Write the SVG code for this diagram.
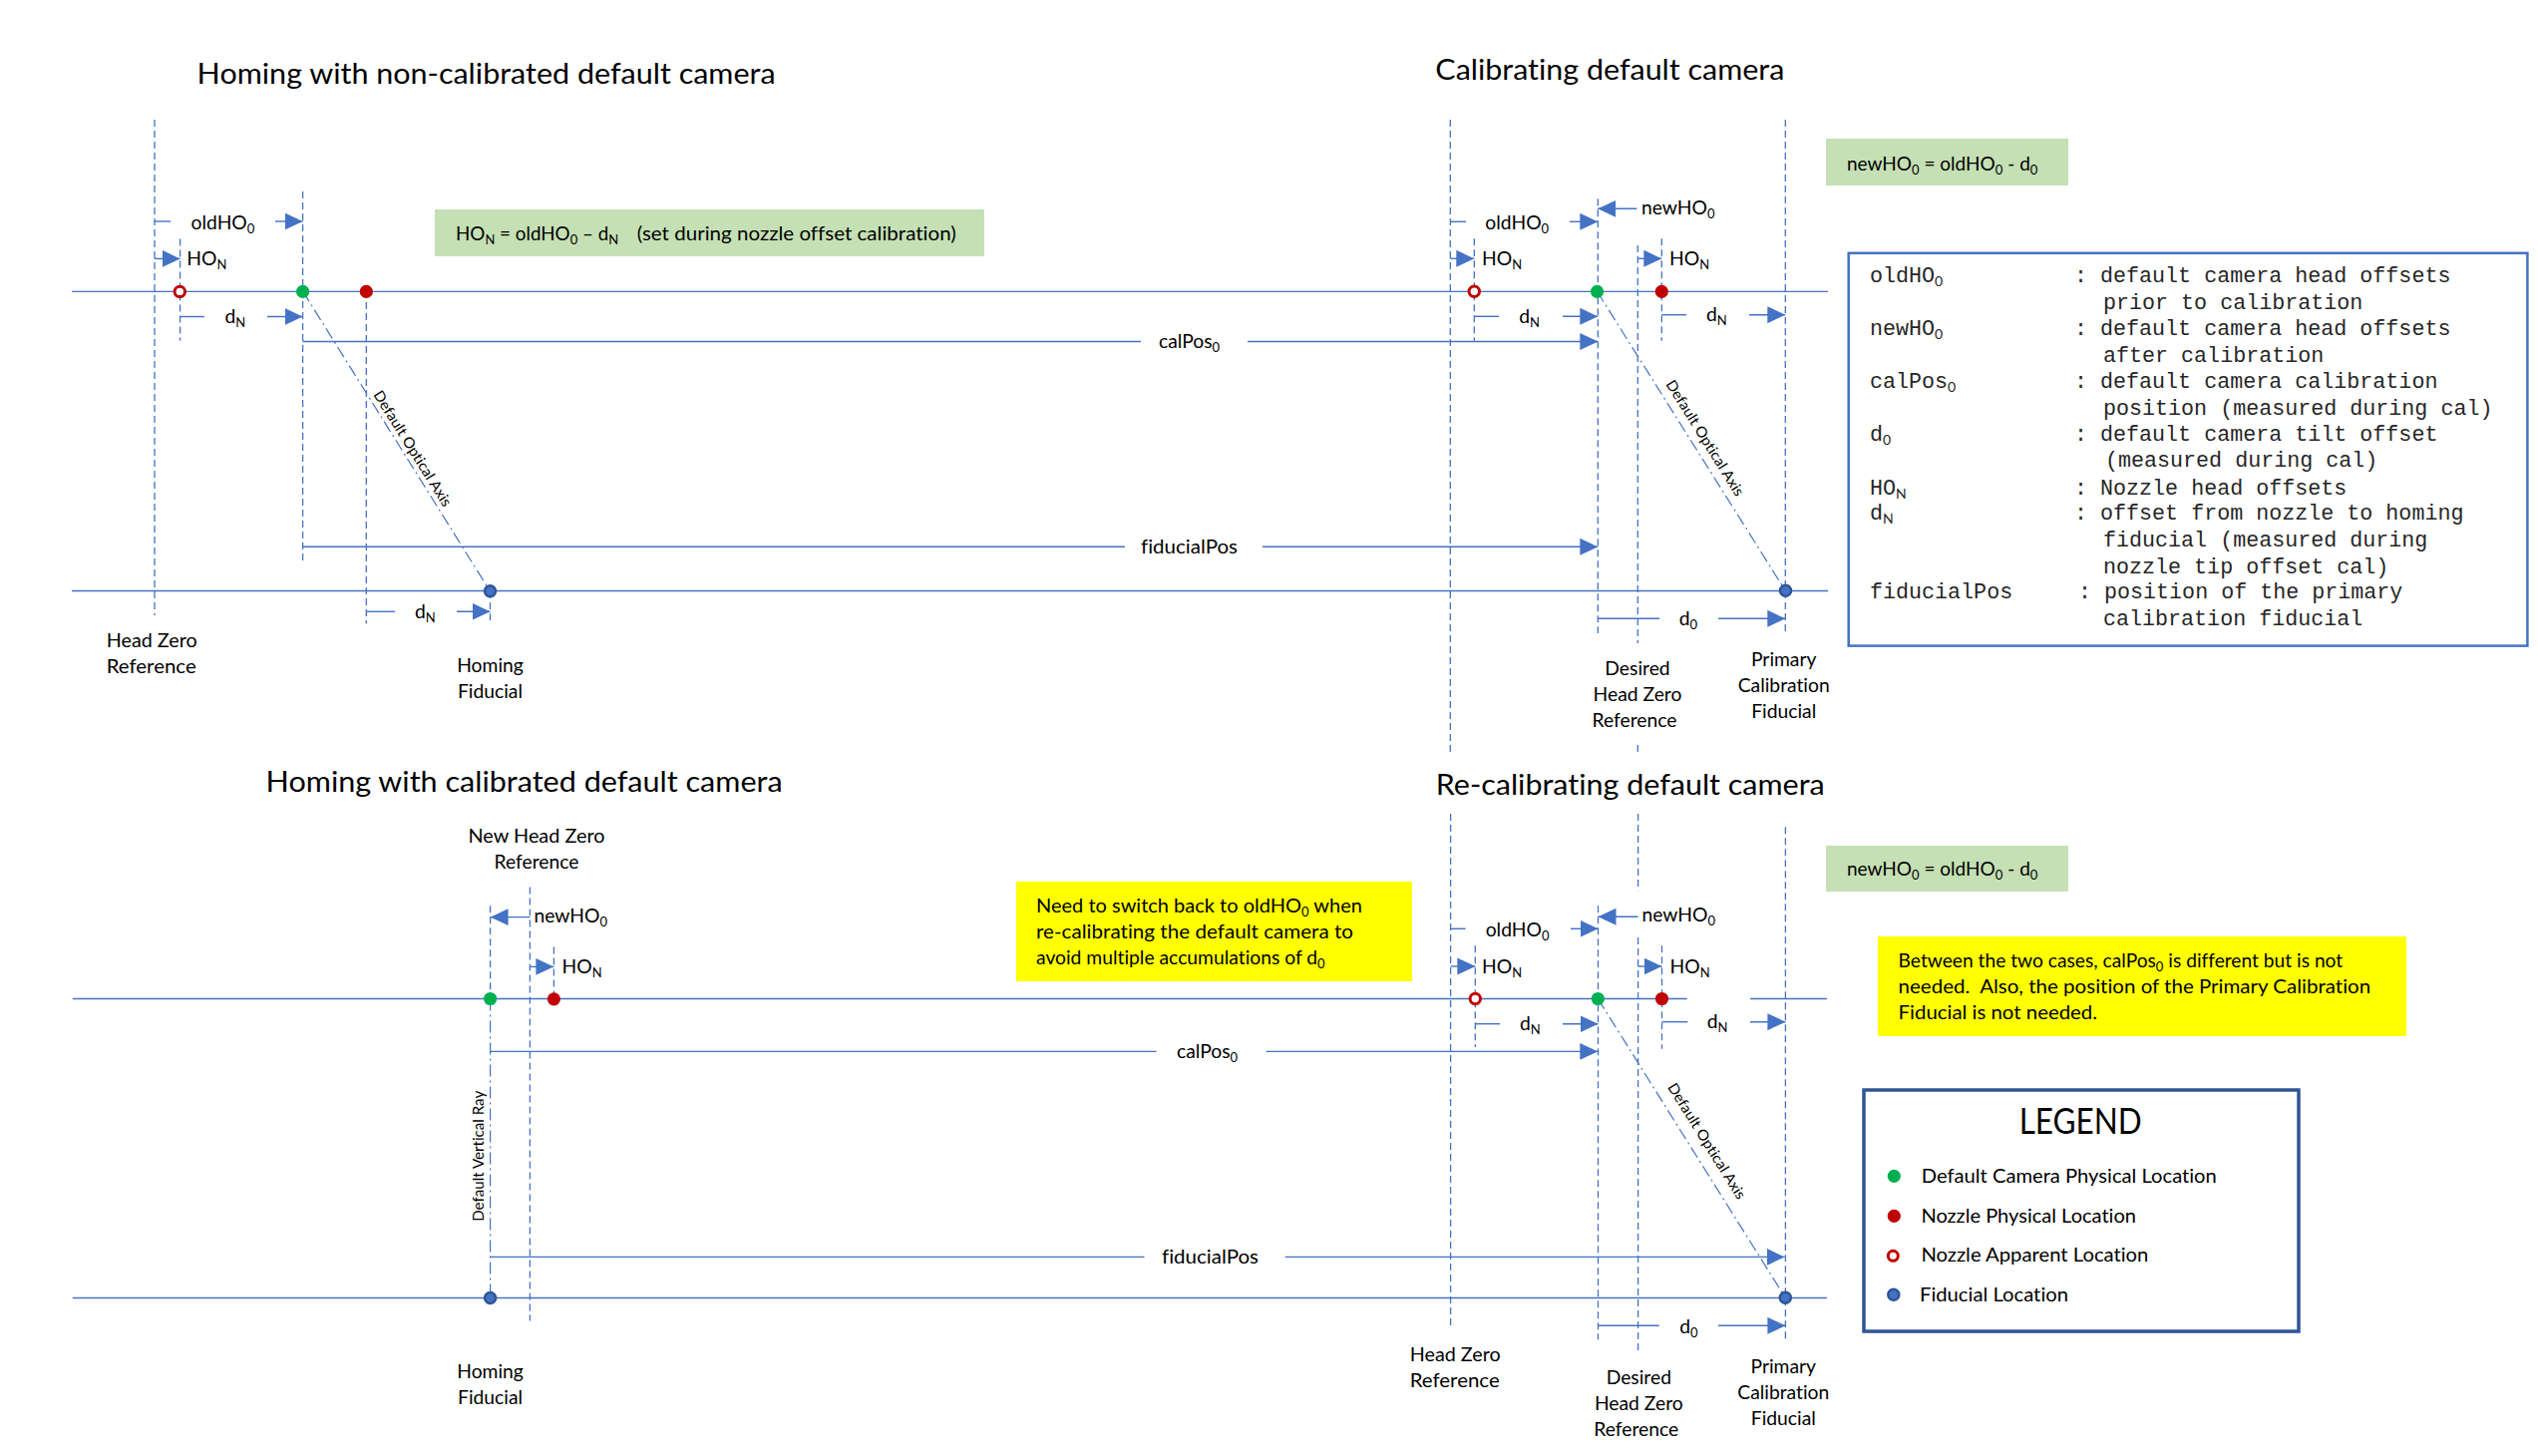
<svg xmlns="http://www.w3.org/2000/svg" width="2545" height="1460" viewBox="0 0 2545 1460">
<style>
text{font-family:"Lato","Carlito","Liberation Sans",sans-serif;font-size:19.3px;fill:#000;white-space:pre;font-variant-ligatures:none}
.title{font-size:29px}
.small{font-size:14.5px}
.mid{text-anchor:middle}
.big{font-size:36px}
.m{font-family:"Liberation Mono",monospace;font-size:21.7px;fill:#262626}
.sub{font-size:13px}
.msub{font-family:"Lato",sans-serif;font-size:14px}
.s{stroke:#4472C4;stroke-width:1.4;fill:none}
.a{stroke:#4472C4;stroke-width:1.4;fill:none;marker-end:url(#arr)}
.d{stroke:#4472C4;stroke-width:1.3;fill:none;stroke-dasharray:7 4}
.o{stroke:#4472C4;stroke-width:1.2;fill:none;stroke-dasharray:12 4 2 4}
.g{fill:#00B050}
.r{fill:#C00000}
.w{fill:#fff;stroke:#C00000;stroke-width:3}
.b{fill:#4472C4;stroke:#2F5597;stroke-width:2.5}
</style>
<defs>
<marker id="arr" markerUnits="userSpaceOnUse" markerWidth="18" markerHeight="18" viewBox="0 0 17 16" refX="17" refY="8" orient="auto"><path d="M0 0L17 8L0 16Z" fill="#4472C4"/></marker>
</defs>
<rect width="2545" height="1460" fill="#fff"/>

<g id="boxes">
<rect id="eq-hon" x="436" y="210" width="551" height="47" fill="#C5E0B4"/>
<rect id="eq-new-top" x="1831" y="139" width="243" height="47" fill="#C5E0B4"/>
<rect id="eq-new-bottom" x="1831" y="848" width="243" height="46" fill="#C5E0B4"/>
<rect id="note-switch" x="1019" y="884" width="397" height="100" fill="#FFFF00"/>
<rect id="note-cases" x="1883" y="939" width="530" height="100" fill="#FFFF00"/>
</g>

<g id="connectors">
<!-- top left -->
<path class="s" d="M72 292.4H1833M72 592.5H1833M303.6 342.5H1144M303.6 548.3H1128"/>
<path class="a" d="M1251 342.5H1602.3"/>
<path class="a" d="M1266 548.3H1602.3"/>
<path class="d" d="M155 120V617M180.6 239.5V341.5M303.6 192V562.5M367.3 292V625.5M491.5 593V622"/>
<path class="s" d="M155 222H171"/><path class="a" d="M276 222H303.6"/>
<path class="a" d="M155 259.4H180.6"/>
<path class="s" d="M180.6 317.5H205"/><path class="a" d="M268 317.5H303.6"/>
<path class="s" d="M367.3 613.3H396"/><path class="a" d="M458 613.3H491.5"/>
<path class="o" d="M303.6 292L491.5 593"/>
<!-- top right -->
<path class="d" d="M1454.3 120V755M1478.3 239.3V341.7M1602.3 199.3V635M1642.3 246V645M1642.3 747V755M1666.3 239.3V341.7M1790.3 120V636.7"/>
<path class="s" d="M1454.3 222.3H1470"/><path class="a" d="M1574 222.3H1602.3"/>
<path class="a" d="M1641.3 209.3H1602.3"/>
<path class="a" d="M1454.3 259.3H1478.3"/>
<path class="a" d="M1642.3 259.3H1666.3"/>
<path class="s" d="M1478.3 317.3H1503"/><path class="a" d="M1567 317.3H1602.3"/>
<path class="s" d="M1666.3 315.7H1691"/><path class="a" d="M1754 315.7H1790.3"/>
<path class="s" d="M1602.3 620.3H1664"/><path class="a" d="M1723 620.3H1790.3"/>
<path class="o" d="M1601.5 292.3L1790.3 592.3"/>
<!-- bottom left -->
<path class="s" d="M72.8 1001.5H1691.7M1755 1001.5H1832M72.8 1301.5H1832M491.6 1054.4H1159.6M491.6 1260.4H1147.5"/>
<path class="a" d="M1269.8 1054.4H1602.3"/>
<path class="a" d="M1288.7 1260.4H1789.6"/>
<path class="d" d="M491.6 908.3V1001.5M531.4 889.6V1324.6M555.4 949.5V1001.5"/>
<path class="o" d="M491.6 1001.5V1301.5"/>
<path class="a" d="M531.4 919.6H491.6"/>
<path class="a" d="M531.4 969.4H555.4"/>
<!-- bottom right -->
<path class="d" d="M1454.6 816V1333M1479.3 948.3V1050M1602.5 908.3V1343.3M1642.6 816V893.3M1642.6 940V1356.7M1666.5 948.3V1051.7M1790.4 829.3V1345"/>
<path class="s" d="M1454.6 931.3H1469.6"/><path class="a" d="M1575 931.3H1602.5"/>
<path class="a" d="M1642.6 919.3H1602.5"/>
<path class="a" d="M1454.6 969H1479.3"/>
<path class="a" d="M1642.6 969H1666.5"/>
<path class="s" d="M1479.3 1026.7H1504"/><path class="a" d="M1567 1026.7H1602.5"/>
<path class="s" d="M1666.5 1024.7H1692.3"/><path class="a" d="M1755 1024.7H1790.4"/>
<path class="s" d="M1602.5 1329.3H1663.7"/><path class="a" d="M1723 1329.3H1790.4"/>
<path class="o" d="M1602.3 1001.5L1790.3 1301.3"/>
</g>

<g id="nodes-top-left">
<circle id="tl-apparent" class="w" cx="180.3" cy="292.4" r="5.2"/>
<circle id="tl-camera" class="g" cx="303.6" cy="292.4" r="6.6"/>
<circle id="tl-nozzle" class="r" cx="367.3" cy="292.4" r="6.6"/>
<circle id="tl-fiducial" class="b" cx="491.5" cy="592.8" r="5.5"/>
</g>
<g id="nodes-top-right">
<circle id="tr-apparent" class="w" cx="1478.3" cy="292.3" r="5.2"/>
<circle id="tr-camera" class="g" cx="1601.5" cy="292.3" r="6.6"/>
<circle id="tr-nozzle" class="r" cx="1666.3" cy="292.3" r="6.6"/>
<circle id="tr-fiducial" class="b" cx="1790.5" cy="592.3" r="5.5"/>
</g>
<g id="nodes-bottom-left">
<circle id="bl-camera" class="g" cx="491.6" cy="1001.5" r="6.6"/>
<circle id="bl-nozzle" class="r" cx="555.4" cy="1001.8" r="6.6"/>
<circle id="bl-fiducial" class="b" cx="491.6" cy="1301.6" r="5.5"/>
</g>
<g id="nodes-bottom-right">
<circle id="br-apparent" class="w" cx="1479.3" cy="1001.5" r="5.2"/>
<circle id="br-camera" class="g" cx="1602.3" cy="1001.5" r="6.6"/>
<circle id="br-nozzle" class="r" cx="1666.5" cy="1001.5" r="6.6"/>
<circle id="br-fiducial" class="b" cx="1790.3" cy="1301.3" r="5.5"/>
</g>

<g id="labels-top-left">
<text class="title" x="197.6" y="84" textLength="580" lengthAdjust="spacingAndGlyphs">Homing with non-calibrated default camera</text>
<text x="191.5" y="230">oldHO<tspan class="sub" dy="4">0</tspan></text>
<text x="187.3" y="266">HO<tspan class="sub" dy="4">N</tspan></text>
<text x="225.5" y="324">d<tspan class="sub" dy="4">N</tspan></text>
<text x="416" y="620">d<tspan class="sub" dy="4">N</tspan></text>
<text x="457" y="241" style="font-size:18.8px">HO<tspan class="sub" dy="4">N</tspan><tspan dy="-4"> = oldHO</tspan><tspan class="sub" dy="4">0</tspan><tspan dy="-4"> – d</tspan><tspan class="sub" dy="4">N</tspan></text>
<text x="638.8" y="241" textLength="320" lengthAdjust="spacingAndGlyphs">(set during nozzle offset calibration)</text>
<text x="1162" y="349">calPos<tspan class="sub" dy="4">0</tspan></text>
<text x="1144" y="555" textLength="97" lengthAdjust="spacingAndGlyphs">fiducialPos</text>
<text class="small" transform="translate(374 395.6) rotate(58)" textLength="134" lengthAdjust="spacingAndGlyphs">Default Optical Axis</text>
<text x="106.7" y="649" textLength="91" lengthAdjust="spacingAndGlyphs">Head Zero</text>
<text x="106.7" y="675" textLength="90" lengthAdjust="spacingAndGlyphs">Reference</text>
<text class="mid" x="491.5" y="674">Homing</text>
<text class="mid" x="491.5" y="699.5">Fiducial</text>
</g>

<g id="labels-top-right">
<text class="title" x="1439.3" y="80" textLength="350" lengthAdjust="spacingAndGlyphs">Calibrating default camera</text>
<text x="1852" y="170.7" style="font-size:19px">newHO<tspan class="sub" dy="4">0</tspan><tspan dy="-4"> = oldHO</tspan><tspan class="sub" dy="4">0</tspan><tspan dy="-4"> - d</tspan><tspan class="sub" dy="4">0</tspan></text>
<text x="1489.3" y="230">oldHO<tspan class="sub" dy="4">0</tspan></text>
<text x="1646" y="215">newHO<tspan class="sub" dy="4">0</tspan></text>
<text x="1486" y="266">HO<tspan class="sub" dy="4">N</tspan></text>
<text x="1674" y="266">HO<tspan class="sub" dy="4">N</tspan></text>
<text x="1523.3" y="324">d<tspan class="sub" dy="4">N</tspan></text>
<text x="1711" y="322.3">d<tspan class="sub" dy="4">N</tspan></text>
<text x="1683.7" y="626.7">d<tspan class="sub" dy="4">0</tspan></text>
<text class="small" transform="translate(1670 385) rotate(58)" textLength="134" lengthAdjust="spacingAndGlyphs">Default Optical Axis</text>
<text class="mid" x="1642" y="676.7">Desired</text>
<text class="mid" x="1642" y="702.7">Head Zero</text>
<text class="mid" x="1639" y="729">Reference</text>
<text class="mid" x="1788.7" y="667.7">Primary</text>
<text class="mid" x="1788.7" y="694">Calibration</text>
<text class="mid" x="1788.7" y="719.7">Fiducial</text>
</g>

<g id="definitions">
<rect x="1853.7" y="253.8" width="680.7" height="393.8" fill="none" stroke="#4472C4" stroke-width="2.5"/>
<text class="m" x="1875" y="283">oldHO<tspan class="msub" dy="4">0</tspan></text>
<text class="m" x="2080" y="283">: default camera head offsets</text>
<text class="m" x="2109" y="310.3">prior to calibration</text>
<text class="m" x="1875" y="336">newHO<tspan class="msub" dy="4">0</tspan></text>
<text class="m" x="2080" y="336">: default camera head offsets</text>
<text class="m" x="2109" y="363">after calibration</text>
<text class="m" x="1875" y="389">calPos<tspan class="msub" dy="4">0</tspan></text>
<text class="m" x="2080" y="389">: default camera calibration</text>
<text class="m" x="2109" y="415.5">position (measured during cal)</text>
<text class="m" x="1875" y="442.4">d<tspan class="msub" dy="4">0</tspan></text>
<text class="m" x="2080" y="442.4">: default camera tilt offset</text>
<text class="m" x="2111" y="468.3">(measured during cal)</text>
<text class="m" x="1875" y="496">HO<tspan class="msub" dy="4">N</tspan></text>
<text class="m" x="2080" y="496">: Nozzle head offsets</text>
<text class="m" x="1875" y="521">d<tspan class="msub" dy="4">N</tspan></text>
<text class="m" x="2080" y="521">: offset from nozzle to homing</text>
<text class="m" x="2109" y="547.6">fiducial (measured during</text>
<text class="m" x="2109" y="574.5">nozzle tip offset cal)</text>
<text class="m" x="1875" y="600.3">fiducialPos</text>
<text class="m" x="2084" y="600.3">: position of the primary</text>
<text class="m" x="2109" y="627">calibration fiducial</text>
</g>

<g id="labels-bottom-left">
<text class="title" x="266.6" y="794" textLength="518" lengthAdjust="spacingAndGlyphs">Homing with calibrated default camera</text>
<text class="mid" x="538" y="845.4" textLength="137" lengthAdjust="spacingAndGlyphs">New Head Zero</text>
<text class="mid" x="538" y="871.4">Reference</text>
<text x="535.5" y="924.8">newHO<tspan class="sub" dy="4">0</tspan></text>
<text x="563.6" y="976.4">HO<tspan class="sub" dy="4">N</tspan></text>
<text x="1180" y="1060.5">calPos<tspan class="sub" dy="4">0</tspan></text>
<text x="1165" y="1267" textLength="97" lengthAdjust="spacingAndGlyphs">fiducialPos</text>
<text class="small" transform="translate(484.5 1224.8) rotate(-90)" textLength="131" lengthAdjust="spacingAndGlyphs">Default Vertical Ray</text>
<text class="mid" x="491.6" y="1382.3">Homing</text>
<text class="mid" x="491.6" y="1408">Fiducial</text>
<text x="1039" y="915" style="font-size:20px">Need to switch back to oldHO<tspan class="sub" dy="4">0</tspan><tspan dy="-4"> when</tspan></text>
<text x="1039" y="941" textLength="318" lengthAdjust="spacingAndGlyphs">re-calibrating the default camera to</text>
<text x="1039" y="967.3">avoid multiple accumulations of d<tspan class="sub" dy="4">0</tspan></text>
</g>

<g id="labels-bottom-right">
<text class="title" x="1439.7" y="796.6" textLength="390" lengthAdjust="spacingAndGlyphs">Re-calibrating default camera</text>
<text x="1852" y="878.3" style="font-size:19px">newHO<tspan class="sub" dy="4">0</tspan><tspan dy="-4"> = oldHO</tspan><tspan class="sub" dy="4">0</tspan><tspan dy="-4"> - d</tspan><tspan class="sub" dy="4">0</tspan></text>
<text x="1489.7" y="938.5">oldHO<tspan class="sub" dy="4">0</tspan></text>
<text x="1646.4" y="924.3">newHO<tspan class="sub" dy="4">0</tspan></text>
<text x="1486" y="975.5">HO<tspan class="sub" dy="4">N</tspan></text>
<text x="1674.5" y="975.5">HO<tspan class="sub" dy="4">N</tspan></text>
<text x="1524" y="1033.3">d<tspan class="sub" dy="4">N</tspan></text>
<text x="1711.8" y="1031">d<tspan class="sub" dy="4">N</tspan></text>
<text x="1684.3" y="1336.7">d<tspan class="sub" dy="4">0</tspan></text>
<text class="small" transform="translate(1671.7 1090) rotate(58)" textLength="134" lengthAdjust="spacingAndGlyphs">Default Optical Axis</text>
<text x="1413.7" y="1365" textLength="91" lengthAdjust="spacingAndGlyphs">Head Zero</text>
<text x="1413.7" y="1391" textLength="90" lengthAdjust="spacingAndGlyphs">Reference</text>
<text class="mid" x="1643.3" y="1387.7">Desired</text>
<text class="mid" x="1643.3" y="1414">Head Zero</text>
<text class="mid" x="1640.7" y="1440">Reference</text>
<text class="mid" x="1788.3" y="1376.7">Primary</text>
<text class="mid" x="1788.3" y="1402.7">Calibration</text>
<text class="mid" x="1788.3" y="1428.7">Fiducial</text>
<text x="1903.6" y="970" style="font-size:19.2px">Between the two cases, calPos<tspan class="sub" dy="4">0</tspan><tspan dy="-4"> is different but is not</tspan></text>
<text x="1903.6" y="996" textLength="473.6" lengthAdjust="spacingAndGlyphs">needed.  Also, the position of the Primary Calibration</text>
<text x="1903.6" y="1021.7" textLength="199.5" lengthAdjust="spacingAndGlyphs">Fiducial is not needed.</text>
</g>

<g id="legend">
<rect x="1869" y="1093" width="436" height="242" fill="none" stroke="#2F5597" stroke-width="3.5"/>
<text class="big" x="2024.7" y="1136.5" textLength="123" lengthAdjust="spacingAndGlyphs">LEGEND</text>
<circle class="g" cx="1899.3" cy="1179.3" r="6.6"/>
<circle class="r" cx="1899.3" cy="1219.3" r="6.6"/>
<circle class="w" cx="1898.3" cy="1259.3" r="5"/>
<circle class="b" cx="1898.8" cy="1298.3" r="5.5"/>
<text x="1926.8" y="1186" textLength="296" lengthAdjust="spacingAndGlyphs">Default Camera Physical Location</text>
<text x="1926.4" y="1226" textLength="215.6" lengthAdjust="spacingAndGlyphs">Nozzle Physical Location</text>
<text x="1926.4" y="1265" textLength="228" lengthAdjust="spacingAndGlyphs">Nozzle Apparent Location</text>
<text x="1925" y="1305" textLength="149" lengthAdjust="spacingAndGlyphs">Fiducial Location</text>
</g>
</svg>
